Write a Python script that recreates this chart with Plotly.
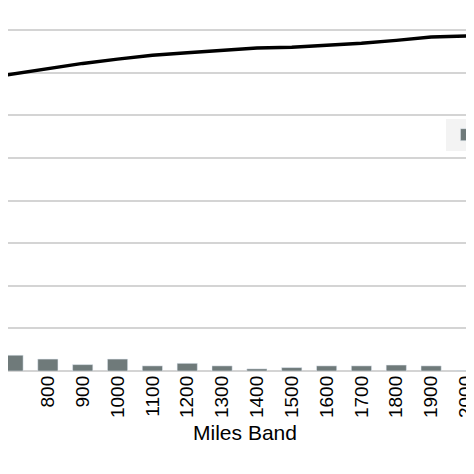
import plotly.graph_objects as go

miles = [600, 700, 800, 900, 1000, 1100, 1200, 1300, 1400, 1500, 1600, 1700, 1800, 1900, 2000, 2100]
share = [4.5, 3.7, 2.8, 1.5, 2.8, 1.2, 1.8, 1.2, 0.5, 0.8, 1.2, 1.2, 1.4, 1.2, 0.1, 0.1]
cumulative = [68.5, 69.8, 71.0, 72.2, 73.2, 74.1, 74.7, 75.3, 75.8, 76.0, 76.4, 76.9, 77.6, 78.4, 78.6, 78.7]
tick_vals = list(range(700, 2001, 100))

fig = go.Figure()
fig.add_trace(go.Bar(x=miles, y=share, width=58, marker_color="#6f7a7a",
                     name="% of Trips"))
fig.add_trace(go.Scatter(x=miles, y=cumulative, mode="lines",
                         line=dict(color="black", width=3.5),
                         name="Cumulative %", showlegend=False))

fig.update_layout(
    width=474, height=474,
    margin=dict(l=0, r=0, t=0, b=111, autoexpand=False),
    plot_bgcolor="white", paper_bgcolor="white",
    font=dict(family="Liberation Sans, Arial", color="black"),
    legend=dict(x=0.925, y=0.65, xanchor="left", yanchor="middle",
                bgcolor="#f3f3f3", font=dict(size=14)),
    xaxis=dict(range=[685.6, 2046], tickvals=tick_vals,
               ticktext=[str(v) for v in tick_vals], tickangle=-90,
               tickfont=dict(size=19), showgrid=False, zeroline=False,
               title=dict(text="Miles Band", font=dict(size=21), standoff=8)),
    yaxis=dict(range=[0, 85.2], dtick=10, showticklabels=False,
               gridcolor="#d4d4d4", gridwidth=1.5, zeroline=True,
               zerolinecolor="#d4d4d4"),
)

fig.write_html("out.html")
